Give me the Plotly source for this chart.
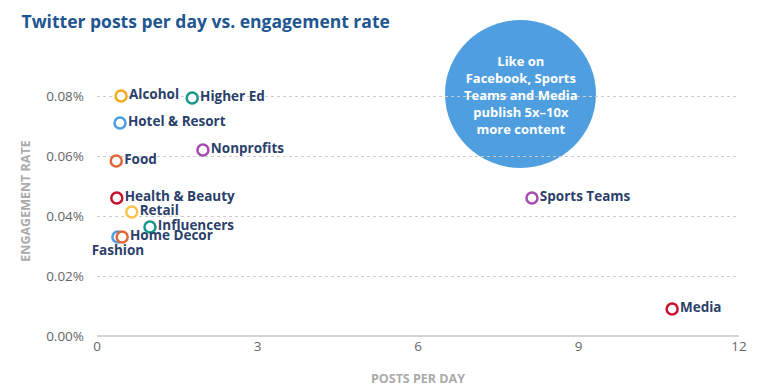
import plotly.graph_objects as go

categories = ["Alcohol", "Higher Ed", "Hotel & Resort", "Nonprofits", "Food",
              "Health & Beauty", "Retail", "Influencers", "Fashion", "Home Decor",
              "Sports Teams", "Media"]
posts_per_day = [0.45, 1.78, 0.43, 1.98, 0.36, 0.37, 0.65, 0.99, 0.39, 0.47, 8.13, 10.75]
engagement_rate = [0.080, 0.0793, 0.071, 0.062, 0.0583, 0.046, 0.0413, 0.0363, 0.033, 0.033, 0.046, 0.009]
colors = ["#F5A81C", "#17968A", "#4A9FE0", "#A64CB0", "#E0663A", "#C8102E",
          "#FFC24D", "#17968A", "#4A9FE0", "#E0663A", "#A64CB0", "#C8102E"]
text_pos = ["middle right"] * 12
text_pos[8] = "bottom center"
x_ticks = [0, 3, 6, 9, 12]
y_ticks = [0.0, 0.02, 0.04, 0.06, 0.08]
y_tick_labels = ["0.00%", "0.02%", "0.04%", "0.06%", "0.08%"]

fig = go.Figure()
fig.add_trace(go.Scatter(
    x=posts_per_day, y=engagement_rate, mode="markers+text",
    text=categories, textposition=text_pos,
    textfont=dict(family="Open Sans", size=13.5, color="#2B3F6B", weight="bold"),
    marker=dict(size=11, color="white", line=dict(color=colors, width=2.5)),
    cliponaxis=False, hoverinfo="skip", showlegend=False,
))

fig.add_shape(type="circle", xref="paper", yref="paper",
              x0=(445 - 97) / 642, x1=(596 - 97) / 642,
              y0=(336 - 168) / 270, y1=(336 - 20) / 270,
              fillcolor="#4F9FE0", line=dict(width=0), layer="between")
fig.add_annotation(xref="paper", yref="paper", x=(520.5 - 97) / 642, y=(336 - 95) / 270,
                   xanchor="center", yanchor="middle",
                   text="Like on<br>Facebook, Sports<br>Teams and Media<br>publish 5x–10x<br>more content",
                   showarrow=False, font=dict(family="Open Sans", size=13, color="white", weight="bold"),
                   align="center")

fig.update_layout(
    width=768, height=390,
    margin=dict(l=97, r=29, t=66, b=54),
    paper_bgcolor="white", plot_bgcolor="white",
    title=dict(text="Twitter posts per day vs. engagement rate", x=0.028, xanchor="left",
               y=0.943, yanchor="middle",
               font=dict(family="Open Sans", size=17.5, color="#1F5591", weight="bold")),
    xaxis=dict(range=[0, 12], tickvals=x_ticks, showgrid=False, zeroline=False,
               showline=False, ticks="", automargin=False,
               tickfont=dict(family="Open Sans", size=13.5, color="#666666"),
               title=dict(text="POSTS PER DAY", standoff=20,
                          font=dict(family="Open Sans", size=12.5, color="#AAAAAA", weight="bold"))),
    yaxis=dict(range=[0, 0.09], tickvals=y_ticks, ticktext=y_tick_labels,
               showgrid=True, gridcolor="#CCCCCC", griddash="dot", gridwidth=1,
               zeroline=True, zerolinecolor="#D5D5D5", zerolinewidth=2,
               showline=False, ticks="", ticklabelstandoff=12, automargin=False,
               tickfont=dict(family="Open Sans", size=13.5, color="#666666"),
               title=dict(text="ENGAGEMENT RATE", standoff=12,
                          font=dict(family="Open Sans", size=12.5, color="#AAAAAA", weight="bold"))),
)

fig.write_html("out.html")
